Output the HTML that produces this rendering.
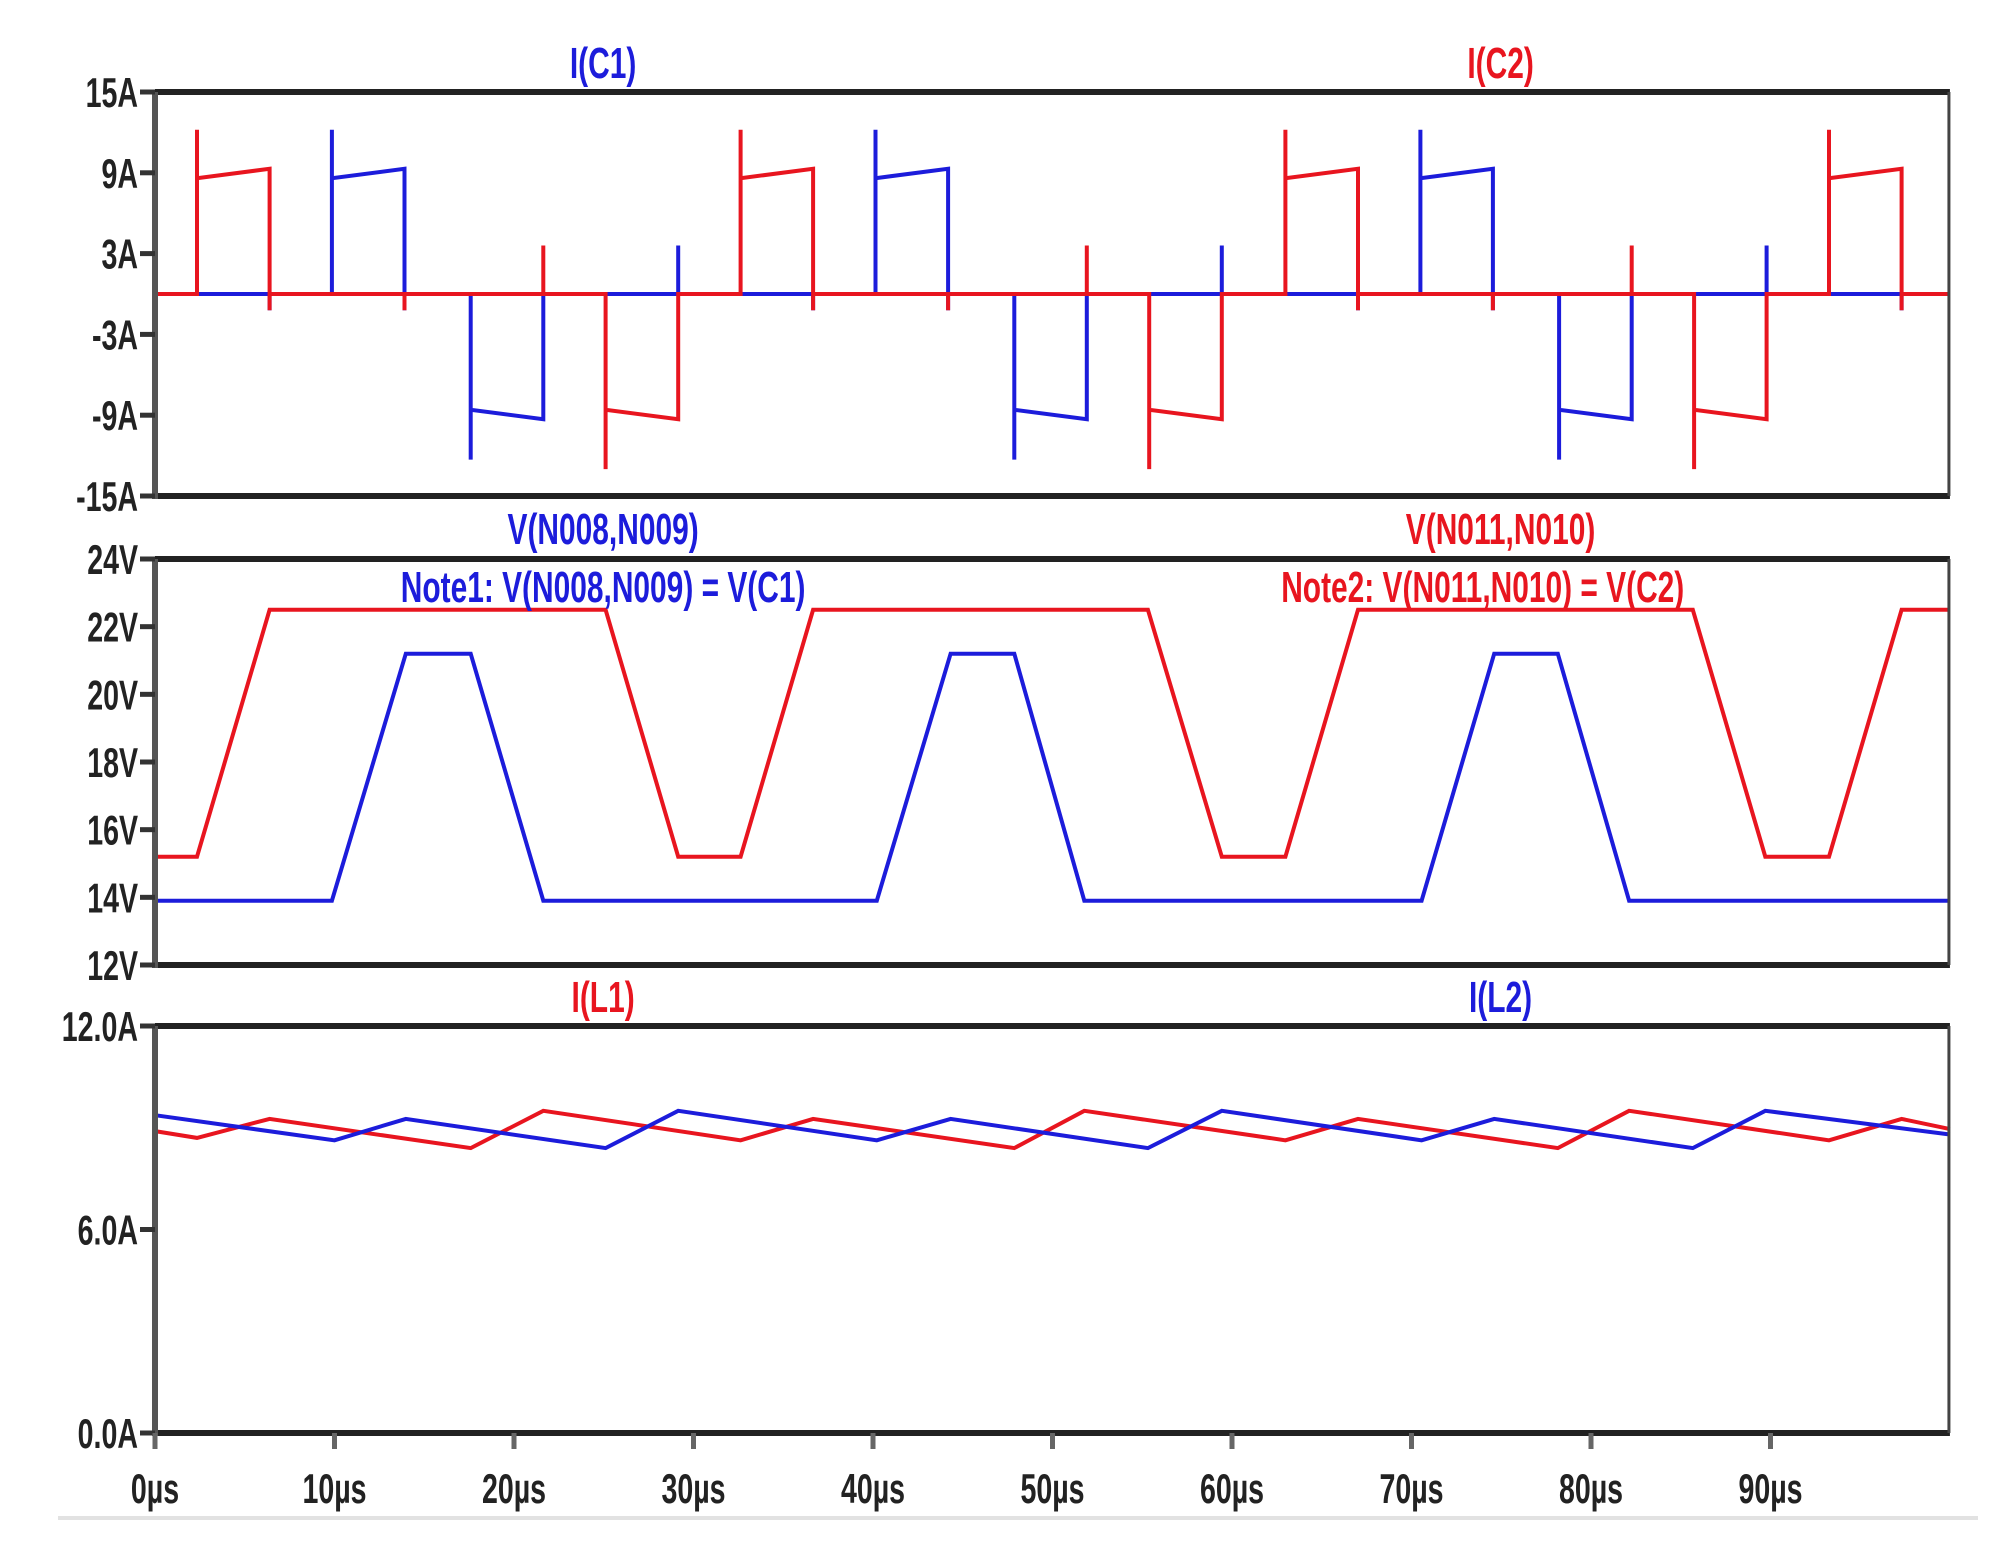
<!DOCTYPE html>
<html><head><meta charset="utf-8"><style>
html,body{margin:0;padding:0;background:#fff;}
svg text{font-family:"Liberation Sans",Arial,sans-serif;font-weight:bold;}
</style></head><body>
<svg id="s" width="1997" height="1553" viewBox="0 0 1997 1553" xmlns="http://www.w3.org/2000/svg">
<rect width="1997" height="1553" fill="#fff"/>
<g id="plots"></g>
<g id="frames"></g>
<g id="txt" font-size="42"></g>
</svg>
<script>
const R='#e8151f',B='#1c1cdb';
const K=1.273, XR=155+1410*K;
const X=x=>155+(x-120)*K;
const ns='http://www.w3.org/2000/svg';
const P=document.getElementById('plots'),F=document.getElementById('frames'),T=document.getElementById('txt');
function el(par,tag,a,txt){const e=document.createElementNS(ns,tag);for(const k in a)e.setAttribute(k,a[k]);if(txt!==undefined)e.textContent=txt;par.appendChild(e);return e;}
function path(pts,col,fy){let d='';pts.forEach((p,i)=>{d+=(i?'L':'M')+X(p[0]).toFixed(1)+','+fy(p[1]).toFixed(1);});el(P,'path',{d:d,fill:'none',stroke:col,'stroke-width':4,'stroke-linejoin':'miter'});}
const panels=[[92,496],[559,965],[1026,1433]];
const y1=v=>294-v*(404/30);
const y2=v=>559+(24-v)*(406/12);
const y3=v=>1433-v*(407/12);
const base=[153,580,1008,1435];
let redPts=[[120,0]],bluePts=[[120,0]];
base.forEach(b=>{
 const ev=[[b,'r',1],[b+106,'b',1],[b+215,'b',-1],[b+321,'r',-1]];
 ev.forEach(([s,c,sg])=>{ if(s>1530)return; const e=s+57;
  const me=c=='r'?redPts:bluePts, ot=c=='r'?bluePts:redPts;
  const pk=sg>0?12.2:-(c=='r'?13:12.3);
  me.push([s,0],[s,pk],[s,sg*8.6],[e,sg*9.3],[e,sg>0?-1.2:0],[e,0]);
  if(e<=1530){ if(sg>0) ot.push([e,0],[e,-1.2],[e,0]); else ot.push([e,0],[e,3.6],[e,0]); }
 });
});
redPts.push([1530,0]);bluePts.push([1530,0]);
redPts.sort((a,b)=>a[0]-b[0]);bluePts.sort((a,b)=>a[0]-b[0]);
path(bluePts,B,y1);path(redPts,R,y1);
path([[120,13.9],[259,13.9],[317,21.2],[368,21.2],[425,13.9],[687,13.9],[745,21.2],[795,21.2],[850,13.9],[1115,13.9],[1172,21.2],[1222,21.2],[1278,13.9],[1530,13.9]],B,y2);
path([[120,15.2],[153,15.2],[210,22.5],[474,22.5],[531,15.2],[580,15.2],[637,22.5],[900,22.5],[958,15.2],[1008,15.2],[1065,22.5],[1328,22.5],[1385,15.2],[1435,15.2],[1492,22.5],[1530,22.5]],R,y2);
path([[120,8.9],[153,8.7],[210,9.26],[368,8.4],[425,9.5],[580,8.63],[637,9.26],[795,8.4],[850,9.5],[1008,8.63],[1065,9.26],[1222,8.4],[1278,9.5],[1435,8.63],[1492,9.26],[1530,8.96]],R,y3);
path([[120,9.37],[261,8.63],[317,9.26],[474,8.4],[531,9.5],[687,8.63],[745,9.26],[900,8.4],[958,9.5],[1115,8.63],[1172,9.26],[1328,8.4],[1385,9.5],[1530,8.8]],B,y3);
panels.forEach(([t,b])=>{
 el(F,'line',{x1:155,y1:t,x2:XR,y2:t,stroke:'#222','stroke-width':6});
 el(F,'line',{x1:155,y1:b,x2:XR,y2:b,stroke:'#222','stroke-width':6});
 el(F,'line',{x1:XR-1,y1:t,x2:XR-1,y2:b,stroke:'#444','stroke-width':3});
 el(F,'line',{x1:155,y1:t,x2:155,y2:b+3,stroke:'#555','stroke-width':6});
});
function ylab(v,y){el(F,'line',{x1:140,y1:y,x2:155,y2:y,stroke:'#333','stroke-width':5});
 const g=el(T,'g',{transform:`translate(138,${y+15}) scale(0.68,1)`});el(g,'text',{x:0,y:0,'text-anchor':'end',fill:'#222'},v);}
[['15A',15],['9A',9],['3A',3],['-3A',-3],['-9A',-9],['-15A',-15]].forEach(([l,v])=>ylab(l,y1(v)));
[24,22,20,18,16,14,12].forEach(v=>ylab(v+'V',y2(v)));
[['12.0A',12],['6.0A',6],['0.0A',0]].forEach(([l,v])=>ylab(l,y3(v)));
for(let i=0;i<10;i++){const x=155+i*179.5;el(F,'line',{x1:x,y1:1433,x2:x,y2:1449,stroke:'#666','stroke-width':5});
 const g=el(T,'g',{transform:`translate(${x},${1503}) scale(0.68,1)`});el(g,'text',{x:0,y:0,'text-anchor':'middle',fill:'#222'},i*10+'µs');}
el(F,'line',{x1:58,y1:1518,x2:1978,y2:1518,stroke:'#e2e2e2','stroke-width':4});
function lab(x,y,s,c){const g=el(T,'g',{transform:`translate(${X(x)},${y}) scale(0.68,1)`});el(g,'text',{x:0,y:0,'text-anchor':'middle',fill:c,'font-size':44},s);}
lab(472,78,'I(C1)',B);lab(1177,78,'I(C2)',R);
lab(472,544,'V(N008,N009)',B);lab(1177,544,'V(N011,N010)',R);
lab(472,602,'Note1: V(N008,N009) = V(C1)',B);lab(1163,602,'Note2: V(N011,N010) = V(C2)',R);
lab(472,1012,'I(L1)',R);lab(1177,1012,'I(L2)',B);
</script>
</body></html>
